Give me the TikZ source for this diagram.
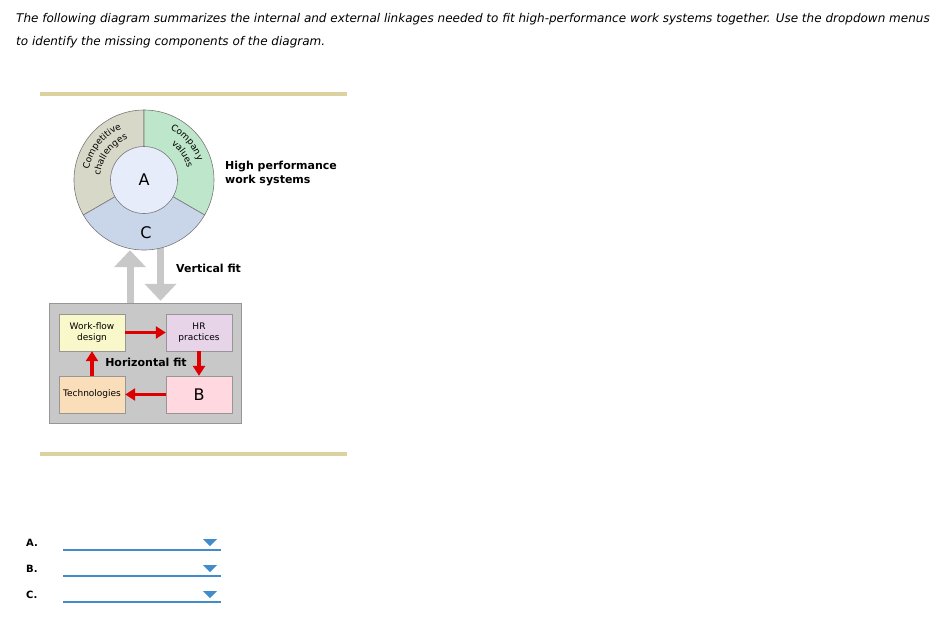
\documentclass[tikz,border=0pt]{standalone}
\usepackage{fontspec}
\setmainfont{DejaVu Sans}
\usetikzlibrary{arrows.meta,decorations.text}

\definecolor{rulecolor}{RGB}{220,210,160}
\definecolor{ringline}{RGB}{120,120,120}
\definecolor{tanfill}{RGB}{216,216,200}
\definecolor{greenfill}{RGB}{190,230,202}
\definecolor{bluefill}{RGB}{201,213,233}
\definecolor{corefill}{RGB}{230,236,250}
\definecolor{fitgray}{RGB}{200,200,200}
\definecolor{boxline}{RGB}{150,150,150}
\definecolor{wffill}{RGB}{248,248,202}
\definecolor{hrfill}{RGB}{232,212,232}
\definecolor{techfill}{RGB}{250,222,186}
\definecolor{bfill}{RGB}{255,216,224}
\definecolor{fitred}{RGB}{222,0,0}
\definecolor{menublue}{RGB}{66,140,204}

\newcommand{\ringfont}{\fontsize{9}{10}\selectfont}
\newcommand{\letterfont}{\fontsize{16}{18}\selectfont}

\tikzstyle{rule} = [draw=rulecolor, line width=4pt]
\tikzstyle{prompt} = [font=\itshape\fontsize{12}{23}\selectfont, align=left, inner sep=0pt]
\tikzstyle{sector} = [draw=ringline, line width=0.6pt]
\tikzstyle{core} = [circle, draw=ringline, line width=0.6pt, fill=corefill, minimum size=67pt, inner sep=0pt, font=\letterfont]
\tikzstyle{letter} = [font=\letterfont, inner sep=0pt]
\tikzstyle{fit label} = [font=\bfseries\fontsize{11}{14}\selectfont, inner sep=0pt]
\tikzstyle{vertical arrow} = [draw=fitgray, line width=7pt, -{Triangle[length=17pt,width=31pt]}]
\tikzstyle{system box} = [draw=boxline, fill=fitgray, minimum width=192pt, minimum height=120pt, inner sep=0pt]
\tikzstyle{practice} = [draw=boxline, minimum width=66pt, minimum height=37pt, inner sep=1pt, align=center, font=\fontsize{9}{11}\selectfont]
\tikzstyle{fit arrow} = [draw=fitred, line width=3.5pt, -{Triangle[length=10pt,width=12pt]}]
\tikzstyle{menu letter} = [font=\bfseries\fontsize{10}{12}\selectfont, inner sep=0pt]
\tikzstyle{menu line} = [draw=menublue, line width=2pt]
\tikzset{ring text/.style={decorate, decoration={text along path, text align=center, text={|\ringfont|#1}}}}

\begin{document}
\begin{tikzpicture}[x=1pt, y=-1pt]
    \useasboundingbox (0,0) rectangle (950,621);
    % The question above the diagram
    \node[prompt, anchor=north west] (prompt) at (16,13)
        {The following diagram summarizes the internal and external linkages needed to fit high-performance work systems together. Use the dropdown menus\\to identify the missing components of the diagram.};
    \draw[rule] (40,94) -- (347,94);
    \draw[rule] (40,454) -- (347,454);
    % Place the ring and the box first, so the gray arrows go beneath
    \node[circle, minimum size=140pt, inner sep=0pt] (ring) at (144,180) {};
    \node[system box] (sysbox) at (145,363) {};
    \draw[vertical arrow] ([xshift=-15pt]sysbox.north) -- ([xshift=-14pt]ring.south);
    \draw[vertical arrow] ([xshift=16.5pt, yshift=4pt]ring.south) -- ([xshift=15.5pt, yshift=2pt]sysbox.north);
    % Then fill the three sectors of the ring
    \foreach \from/\to/\shade in {150/270/tanfill, -90/30/greenfill, 30/150/bluefill}
    \filldraw[sector, fill=\shade] (ring.center) -- ++(\from:70) arc[start angle=\from, end angle=\to, radius=70] -- cycle;
    \node[core] (core) at (ring.center) {A};
    \node[letter] (cLabel) at (146,233) {C};
    % Curved labels on the ring
    \path[ring text=Competitive] ([shift={(-182:56)}]ring.center) arc[start angle=-182, end angle=-101, radius=56];
    \path[ring text=challenges] ([shift={(-183:44)}]ring.center) arc[start angle=-183, end angle=-103, radius=44];
    \path[ring text=Company] ([shift={(-81:57)}]ring.center) arc[start angle=-81, end angle=-1, radius=57];
    \path[ring text=values] ([shift={(-74:45)}]ring.center) arc[start angle=-74, end angle=6, radius=45];
    \node[fit label, anchor=north west, align=left] (hpws) at (225,161) {High performance\\work systems};
    \node[fit label, anchor=west] (vfit) at (176,268) {Vertical fit};
    % Draw the practices inside the box
    \foreach \pos/\name/\shade/\txt in {{(92,332.5)/workflow/wffill/Work-flow\\design},
        {(199,332.5)/hr/hrfill/HR\\practices},{(92,394.5)/tech/techfill/Technologies}}
    \node[practice, fill=\shade] (\name) at \pos {\txt};
    \node[practice, fill=bfill, font=\letterfont] (bbox) at (199,394.5) {B};
    % Connect practices with red arrows
    \foreach \source/\dest in {workflow.east/hr.west, hr.south/bbox.north,
        bbox.west/tech.east, tech.north/workflow.south}
    \draw[fit arrow] (\source) -- (\dest);
    \node[fit label] (hfit) at (146,362) {Horizontal fit};
    % Dropdown rows
    \foreach \y/\letter in {550/A,576/B,602/C} {
        \node[menu letter, anchor=base west] (label\letter) at (26,\y-4) {\letter.};
        \draw[menu line] (63,\y) -- (221,\y);
        \fill[menublue] (203,\y-11) -- (217,\y-11) -- (210,\y-4) -- cycle;
    }
\end{tikzpicture}
\end{document}
